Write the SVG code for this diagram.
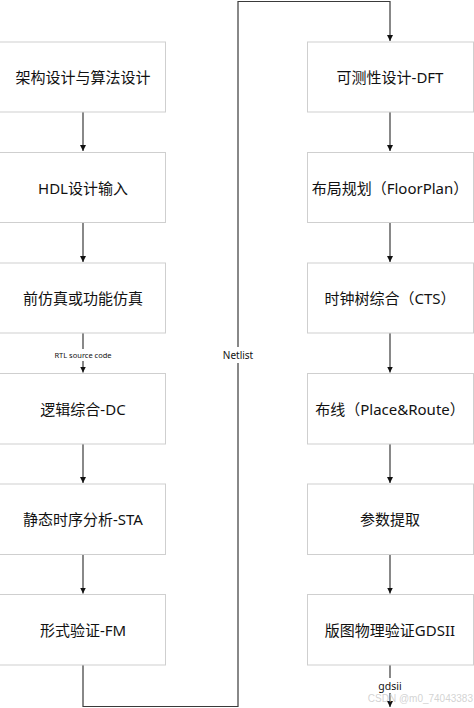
<svg xmlns="http://www.w3.org/2000/svg" width="474" height="708" viewBox="0 0 474 708">
<style>
.box{fill:#fff;stroke:#cfcfcf;stroke-width:1}
.t{font-family:"Noto Sans","Noto Sans CJK SC",sans-serif;font-size:15px;fill:#111;text-anchor:middle;dominant-baseline:central}
.c{fill:none;stroke:#3a3a3a;stroke-width:1.2}
.lbl{font-family:"Noto Sans","Noto Sans CJK SC",sans-serif;fill:#111;text-anchor:middle;dominant-baseline:central}
</style>
<defs>
<marker id="ah" markerWidth="8" markerHeight="8" refX="6" refY="4" orient="auto" markerUnits="userSpaceOnUse">
<path d="M0,1 L6,4 L0,7 Z" fill="#111"/>
</marker>
</defs>
<rect width="474" height="708" fill="#fff"/>
<g id="connectors">
<path class="c" d="M83,112 V151" marker-end="url(#ah)"/>
<path class="c" d="M83,222.5 V262" marker-end="url(#ah)"/>
<path class="c" d="M83,333 V372.5" marker-end="url(#ah)"/>
<path class="c" d="M83,444 V483" marker-end="url(#ah)"/>
<path class="c" d="M83,554.5 V593.5" marker-end="url(#ah)"/>
<path class="c" d="M83,665 V706.5 H238 V1.5 H390 V41" marker-end="url(#ah)"/>
<path class="c" d="M390,112 V151" marker-end="url(#ah)"/>
<path class="c" d="M390,222.5 V262" marker-end="url(#ah)"/>
<path class="c" d="M390,333 V372.5" marker-end="url(#ah)"/>
<path class="c" d="M390,444 V483" marker-end="url(#ah)"/>
<path class="c" d="M390,554.5 V593.5" marker-end="url(#ah)"/>
<path class="c" d="M390,665 V707" marker-end="url(#ah)"/>
<rect x="40" y="349" width="86" height="12" fill="#fff"/>
<text class="lbl" x="83" y="355" font-size="7.5">RTL source code</text>
<rect x="219" y="347" width="38" height="16" fill="#fff"/>
<text class="lbl" x="238" y="355" font-size="10">Netlist</text>
<rect x="376" y="678" width="28" height="15" fill="#fff"/>
<text class="lbl" x="390" y="685.5" font-size="10.5">gdsii</text>
</g>
<g id="n1"><rect class="box" x="-1" y="42" width="166.5" height="70"/><text class="t" x="83" y="77">架构设计与算法设计</text></g>
<g id="n2"><rect class="box" x="-1" y="152.5" width="166.5" height="70"/><text class="t" x="83" y="187.5">HDL设计输入</text></g>
<g id="n3"><rect class="box" x="-1" y="263" width="166.5" height="70"/><text class="t" x="83" y="298">前仿真或功能仿真</text></g>
<g id="n4"><rect class="box" x="-1" y="373.5" width="166.5" height="70.5"/><text class="t" x="83" y="408.5">逻辑综合-DC</text></g>
<g id="n5"><rect class="box" x="-1" y="484" width="166.5" height="70.5"/><text class="t" x="83" y="519">静态时序分析-STA</text></g>
<g id="n6"><rect class="box" x="-1" y="594.5" width="166.5" height="70.5"/><text class="t" x="83" y="630">形式验证-FM</text></g>
<g id="n7"><rect class="box" x="307.5" y="42" width="166" height="70"/><text class="t" x="390" y="77">可测性设计-DFT</text></g>
<g id="n8"><rect class="box" x="307.5" y="152.5" width="166" height="70"/><text class="t" x="390" y="187.5" font-size="14">布局规划（FloorPlan）</text></g>
<g id="n9"><rect class="box" x="307.5" y="263" width="166" height="70"/><text class="t" x="390" y="298">时钟树综合（CTS）</text></g>
<g id="n10"><rect class="box" x="307.5" y="373.5" width="166" height="70.5"/><text class="t" x="390" y="408.5">布线（Place&amp;Route）</text></g>
<g id="n11"><rect class="box" x="307.5" y="484" width="166" height="70.5"/><text class="t" x="390" y="519">参数提取</text></g>
<g id="n12"><rect class="box" x="307.5" y="594.5" width="166" height="70.5"/><text class="t" x="390" y="630">版图物理验证GDSII</text></g>
<text x="473" y="702" font-family="Liberation Sans, sans-serif" font-size="10" fill="#c8c8c8" fill-opacity="0.8" text-anchor="end">CSDN @m0_74043383</text>
</svg>
